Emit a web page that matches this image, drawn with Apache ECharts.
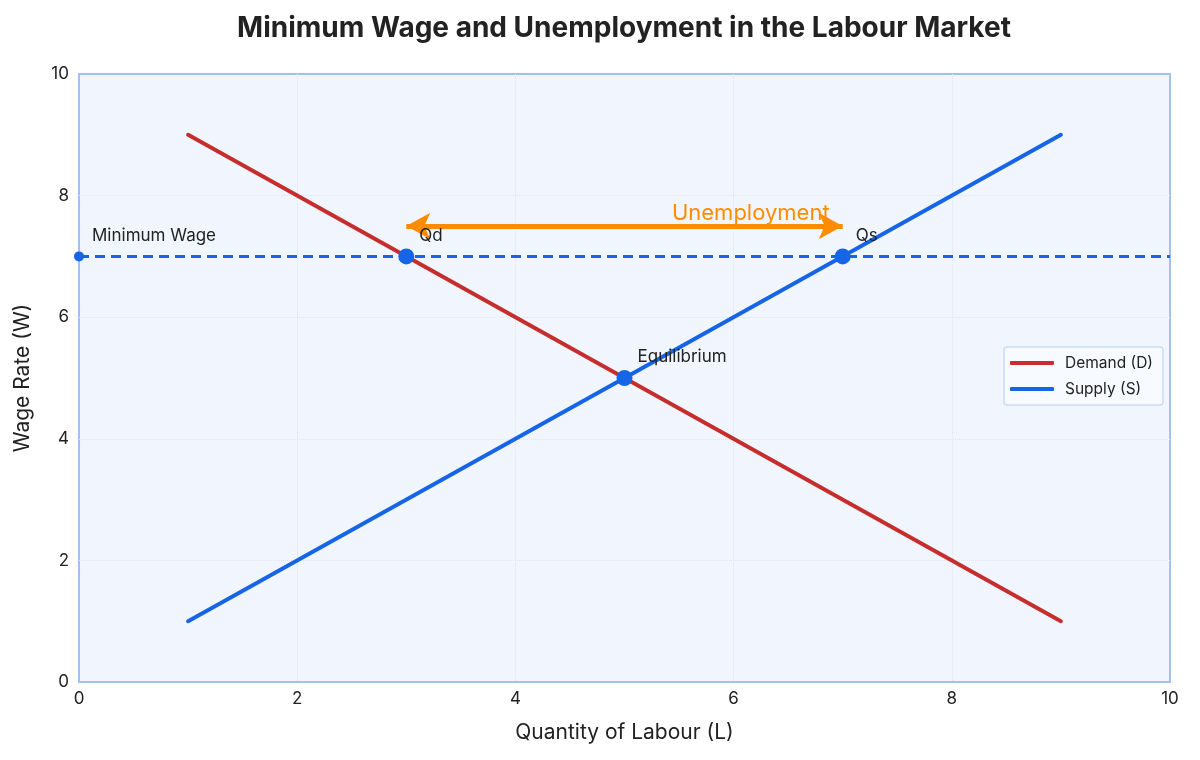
<!DOCTYPE html>
<html>
<head>
<meta charset="utf-8">
<script src="https://cdn.jsdelivr.net/npm/echarts@6/dist/echarts.min.js"></script>
<style>
html,body{margin:0;padding:0;background:#fff;}
#chart{width:1200px;height:760px;}
</style>
</head>
<body>
<div id="chart"></div>
<script>
// data
var quantity = [1, 9];
var demandWage = [9, 1];
var supplyWage = [1, 9];
var minWage = 7;
var minWageRange = [0, 10];
var keyPoints = [[3, 7, 'Qd'], [7, 7, 'Qs'], [5, 5, 'Equilibrium']];
var gapArrow = [[3, 7.5], [7, 7.5]];
var gapLabelPos = [6.88, 7.7];

var FONT = 'Inter, "DejaVu Sans", sans-serif';
var chart = echarts.init(document.getElementById('chart'));

function pairs(xs, ys){
	var out = [];
	for (var i = 0; i < xs.length; i++) out.push([xs[i], ys[i]]);
	return out;
}

var option = {
	animation: false,
	backgroundColor: '#ffffff',
	textStyle: {fontFamily: FONT},
	// title centred over the plot area
	graphic: [{
		type: 'text', x: 624, y: 15,
		style: {
			text: 'Minimum Wage and Unemployment in the Labour Market',
			textAlign: 'center', textVerticalAlign: 'top',
			font: 'bold 28px ' + FONT, fill: '#222'
		}
	}],
	grid: {
		left: 79, right: 30, top: 74, bottom: 78,
		show: true, backgroundColor: '#f1f6fe', borderColor: '#9fc1f6', borderWidth: 2
	},
	legend: {
		right: 37, top: 347, orient: 'vertical',
		itemWidth: 44, itemHeight: 4, itemGap: 10,
		padding: [8, 10, 8, 6],
		backgroundColor: '#f7faff', borderColor: '#c8dcfa', borderWidth: 1.5, borderRadius: 3,
		textStyle: {fontSize: 15.5, color: '#222', fontFamily: FONT, padding: [0, 0, 0, 6]},
		data: [{name: 'Demand (D)', icon: 'roundRect'}, {name: 'Supply (S)', icon: 'roundRect'}]
	},
	xAxis: {
		type: 'value', min: 0, max: 10, interval: 2,
		name: 'Quantity of Labour (L)', nameLocation: 'middle', nameGap: 40,
		nameTextStyle: {fontSize: 21, color: '#222'},
		axisLine: {show: false}, axisTick: {show: false},
		axisLabel: {fontSize: 17, color: '#222', margin: 8},
		splitLine: {show: true, showMinLine: false, showMaxLine: false, lineStyle: {color: '#dde5f0', type: 'dotted', width: 1}}
	},
	yAxis: {
		type: 'value', min: 0, max: 10, interval: 2,
		name: 'Wage Rate (W)', nameLocation: 'middle', nameGap: 46,
		nameTextStyle: {fontSize: 21, color: '#222'},
		axisLine: {show: false}, axisTick: {show: false},
		axisLabel: {fontSize: 17, color: '#222', margin: 10},
		splitLine: {show: true, showMinLine: false, showMaxLine: false, lineStyle: {color: '#dde5f0', type: 'dotted', width: 1}}
	},
	series: [
		{
			name: 'Demand (D)', type: 'line', data: pairs(quantity, demandWage),
			symbol: 'none', color: '#c62d2d',
			lineStyle: {width: 4, color: '#c62d2d', cap: 'round'}, z: 2
		},
		{
			name: 'Supply (S)', type: 'line', data: pairs(quantity, supplyWage),
			symbol: 'none', color: '#1565e6',
			lineStyle: {width: 4, color: '#1565e6', cap: 'round'}, z: 2
		},
		{
			name: 'Minimum Wage', type: 'line',
			data: [
				{value: [minWageRange[0], minWage], symbol: 'circle', symbolSize: 10,
					label: {show: true, formatter: 'Minimum Wage', position: 'right', distance: 8, offset: [0, -21], fontSize: 17, color: '#222'}},
				{value: [minWageRange[1], minWage], symbol: 'none'}
			],
			color: '#1565e6', itemStyle: {color: '#1565e6', opacity: 1},
			lineStyle: {width: 3, type: [10, 6], color: '#1565e6'}, z: 3
		},
		{
			name: 'points', type: 'scatter',
			data: keyPoints.map(function(p){
				return {value: [p[0], p[1]], label: {show: true, formatter: p[2]}};
			}),
			symbolSize: 16, itemStyle: {color: '#1565e6', opacity: 1},
			label: {position: 'right', distance: 5, offset: [0, -21], fontSize: 17, color: '#222'},
			z: 5
		},
		{
			name: 'gap', type: 'scatter',
			data: [{value: gapLabelPos, label: {show: true, formatter: 'Unemployment'}}],
			symbolSize: 0, itemStyle: {opacity: 1},
			label: {position: 'left', distance: 0, fontSize: 22, color: '#ff8c00'},
			markLine: {
				silent: true, symbol: ['arrow', 'arrow'], symbolSize: [20, 24],
				lineStyle: {color: '#ff8c00', width: 5, type: 'solid', opacity: 1},
				label: {show: false},
				data: [[{coord: gapArrow[0]}, {coord: gapArrow[1]}]]
			},
			z: 4
		}
	]
};
chart.setOption(option);
</script>
</body>
</html>
